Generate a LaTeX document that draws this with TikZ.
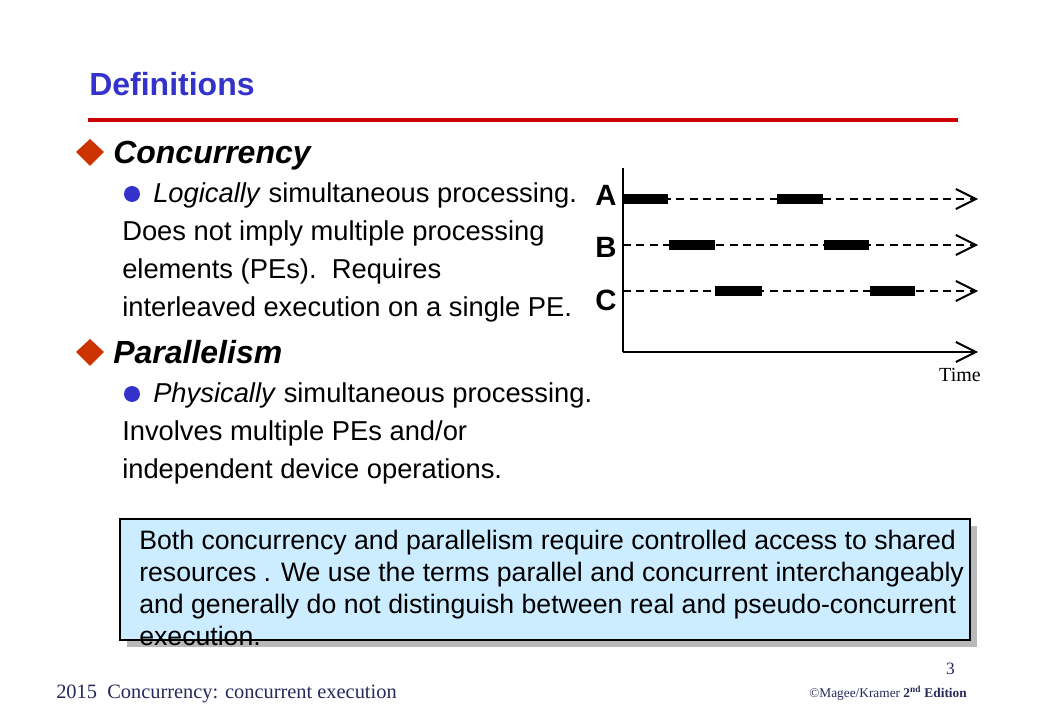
\documentclass[tikz,border=0pt]{standalone}
\usepackage{fontspec}
\setmainfont{Liberation Sans}
\newfontfamily\timesfont{Liberation Serif}
\usetikzlibrary{arrows.meta}
\definecolor{titleblue}{RGB}{51,51,204}
\definecolor{rulered}{RGB}{204,0,0}
\definecolor{diamondred}{RGB}{204,51,0}
\definecolor{boxblue}{RGB}{204,236,255}
\definecolor{footblue}{RGB}{40,40,90}
\tikzset{
  txt/.style={anchor=base west,inner sep=0pt,font=\fontsize{20.5}{24}\selectfont},
  head/.style={anchor=base west,inner sep=0pt,font=\fontsize{24}{28}\selectfont\bfseries\itshape},
  lbl/.style={anchor=base,inner sep=0pt,font=\fontsize{22}{26}\selectfont\bfseries},
  boxtxt/.style={anchor=base west,inner sep=0pt,font=\fontsize{20}{24}\selectfont},
  timeline/.style={line width=1.5pt,dash pattern=on 6pt off 4pt,-{Straight Barb[length=15pt,width=15pt,line width=1.5pt]}},
  axis/.style={line width=1.5pt},
  burst/.style={line width=7.5pt},
}
\begin{document}
\begin{tikzpicture}[x=0.75pt,y=-0.75pt]
\useasboundingbox (0,0) rectangle (1040,720);
% title
\node[anchor=base west,inner sep=0pt,font=\fontsize{24}{28}\selectfont\bfseries,text=titleblue] (title) at (89,96) {Definitions};
\fill[rulered] (88,118) rectangle (958,122);
% concurrency
\fill[diamondred] (90,139) -- (104,152) -- (90,166) -- (76,152) -- cycle;
\node[head] (conc) at (113,164) {Concurrency};
\fill[titleblue] (132,194) circle (8);
\node[txt] (conc1) at (153,203) {\textit{Logically} simultaneous processing.};
\node[txt] (conc2) at (122,241) {Does not imply multiple processing};
\node[txt] (conc3) at (122,279) {elements (PEs).\ \ Requires};
\node[txt] (conc4) at (122,317) {interleaved execution on a single PE.};
% parallelism
\fill[diamondred] (90,339) -- (104,352) -- (90,366) -- (76,352) -- cycle;
\node[head] (par) at (113,364) {Parallelism};
\fill[titleblue] (132,394) circle (8);
\node[txt] (par1) at (153,403) {\textit{Physically} simultaneous processing.};
\node[txt] (par2) at (122,441) {Involves multiple PEs and/or};
\node[txt] (par3) at (122,479) {independent device operations.};
% time diagram
\coordinate (top) at (623,168);
\coordinate (origin) at (623,352);
\coordinate (tend) at (978,352);
\draw[axis] (top) -- (origin);
\draw[axis,-{Straight Barb[length=15pt,width=15pt,line width=1.5pt]}] (origin) -- (tend);
\coordinate (a0) at (623,199); \coordinate (a1) at (978,199);
\coordinate (b0) at (623,245); \coordinate (b1) at (978,245);
\coordinate (c0) at (623,291); \coordinate (c1) at (978,291);
\draw[timeline] (a0) -- (a1);
\draw[timeline] (b0) -- (b1);
\draw[timeline] (c0) -- (c1);
\draw[burst] (623,199) -- (668,199);
\draw[burst] (777,199) -- (823,199);
\draw[burst] (669,245) -- (715,245);
\draw[burst] (824,245) -- (869,245);
\draw[burst] (715,291) -- (762,291);
\draw[burst] (870,291) -- (915,291);
\node[lbl] (la) at (606,206) {A};
\node[lbl] (lb) at (606,258) {B};
\node[lbl] (lc) at (606,311) {C};
\node[anchor=base east,inner sep=0pt,font=\timesfont\fontsize{15}{18}\selectfont] (time) at (981,382) {Time};
% box
\fill[gray!55] (127,526) rectangle (977,647);
\fill[boxblue] (120,519) rectangle (970,640);
\node[boxtxt] (b1l) at (139,549) {Both concurrency and parallelism require controlled access to shared};
\node[boxtxt] (b2l) at (139,581) {resources . We use the terms parallel and concurrent interchangeably};
\node[boxtxt] (b3l) at (139,613) {and generally do not distinguish between real and pseudo-concurrent};
\node[boxtxt] (b4l) at (139,645) {execution.};
\draw[line width=2.2pt] (120,519) rectangle (970,640);
% footer
\node[anchor=base east,inner sep=0pt,font=\timesfont\fontsize{13}{15}\selectfont,text=footblue] (page) at (955,674) {3};
\node[anchor=base west,inner sep=0pt,font=\timesfont\fontsize{15.3}{18}\selectfont,text=footblue] (foot) at (56,698) {2015\ \ Concurrency: concurrent execution};
\node[anchor=base east,inner sep=0pt,font=\timesfont\fontsize{10}{12}\selectfont,text=footblue] (copy) at (967,697) {\copyright Magee/Kramer \textbf{2\textsuperscript{nd} Edition}};
\end{tikzpicture}
\end{document}
